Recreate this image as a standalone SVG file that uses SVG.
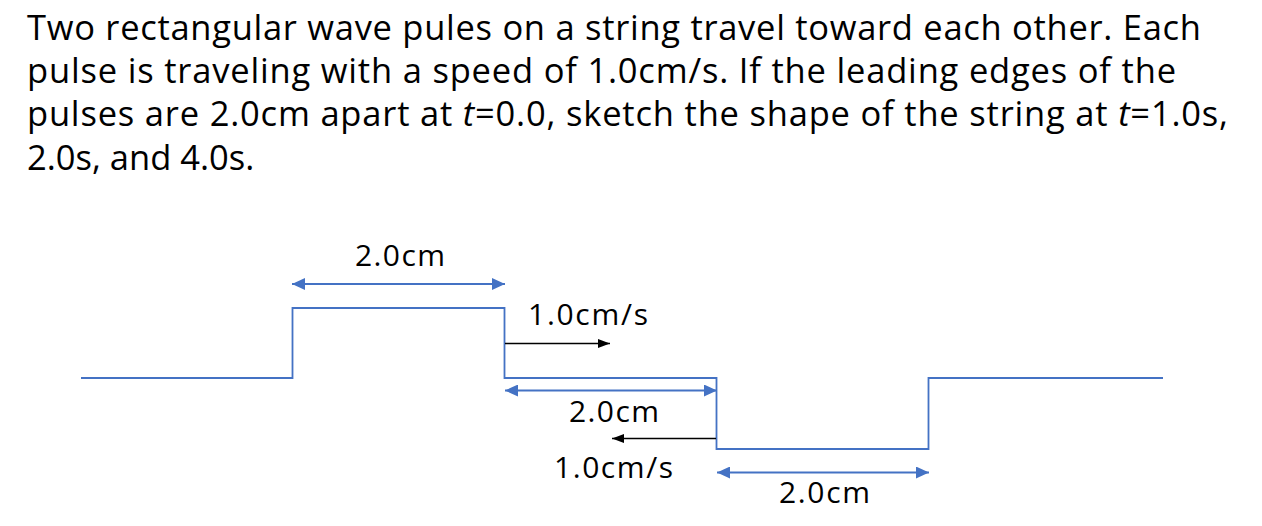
<svg xmlns="http://www.w3.org/2000/svg" width="1262" height="526" viewBox="0 0 1262 526">
  <style>
    .title { font-family: "Open Sans", "Noto Sans", sans-serif; font-size: 34.5px; fill: #000; }
    .lbl { font-family: "Open Sans", "Noto Sans", sans-serif; font-size: 30px; fill: #000; }
    .wave { fill: none; stroke: #4472C4; stroke-width: 1.8; }
    .dim { fill: none; stroke: #4472C4; stroke-width: 1.8; }
    .vel { fill: none; stroke: #000; stroke-width: 1.3; }
  </style>
  <defs>
    <marker id="bEnd" markerUnits="userSpaceOnUse" markerWidth="14" markerHeight="12" refX="13" refY="6" orient="auto">
      <path d="M0,0 L13,6 L0,12 Z" fill="#4472C4"/>
    </marker>
    <marker id="bStart" markerUnits="userSpaceOnUse" markerWidth="14" markerHeight="12" refX="1" refY="6" orient="auto">
      <path d="M14,0 L1,6 L14,12 Z" fill="#4472C4"/>
    </marker>
    <marker id="kEnd" markerUnits="userSpaceOnUse" markerWidth="13" markerHeight="10" refX="12" refY="5" orient="auto">
      <path d="M0,0.5 L12,5 L0,9.5 Z" fill="#000"/>
    </marker>
  </defs>

  <g id="title" class="title">
    <text x="27" y="40" textLength="1174" lengthAdjust="spacing">Two rectangular wave pules on a string travel toward each other. Each</text>
    <text x="27" y="83" textLength="1149" lengthAdjust="spacing">pulse is traveling with a speed of 1.0cm/s. If the leading edges of the</text>
    <text x="27" y="126" textLength="1201" lengthAdjust="spacing">pulses are 2.0cm apart at <tspan font-style="italic">t</tspan>=0.0, sketch the shape of the string at <tspan font-style="italic">t</tspan>=1.0s,</text>
    <text x="27" y="170">2.0s, and 4.0s.</text>
  </g>

  <g id="string">
    <path class="wave" d="M81,378 H292.5 V308 H504.5 V378 H716.5 V449 H928.5 V378 H1163"/>
  </g>

  <g id="connectors">
    <line id="dim-top" class="dim" x1="292" y1="284" x2="505" y2="284" marker-start="url(#bStart)" marker-end="url(#bEnd)"/>
    <line id="vel-right" class="vel" x1="505" y1="343.5" x2="610" y2="343.5" marker-end="url(#kEnd)"/>
    <line id="dim-mid" class="dim" x1="505" y1="390.5" x2="717" y2="390.5" marker-start="url(#bStart)" marker-end="url(#bEnd)"/>
    <line id="vel-left" class="vel" x1="716" y1="438.5" x2="612" y2="438.5" marker-end="url(#kEnd)"/>
    <line id="dim-bot" class="dim" x1="717" y1="472.5" x2="929" y2="472.5" marker-start="url(#bStart)" marker-end="url(#bEnd)"/>
  </g>

  <g id="label-top-width" class="lbl"><text x="355" y="266" textLength="90" lengthAdjust="spacing">2.0cm</text></g>
  <g id="label-top-speed" class="lbl"><text x="528" y="325" textLength="120" lengthAdjust="spacing">1.0cm/s</text></g>
  <g id="label-mid-width" class="lbl"><text x="569" y="421.5" textLength="90" lengthAdjust="spacing">2.0cm</text></g>
  <g id="label-bot-speed" class="lbl"><text x="554" y="478" textLength="119" lengthAdjust="spacing">1.0cm/s</text></g>
  <g id="label-bot-width" class="lbl"><text x="779" y="503" textLength="91" lengthAdjust="spacing">2.0cm</text></g>
</svg>
